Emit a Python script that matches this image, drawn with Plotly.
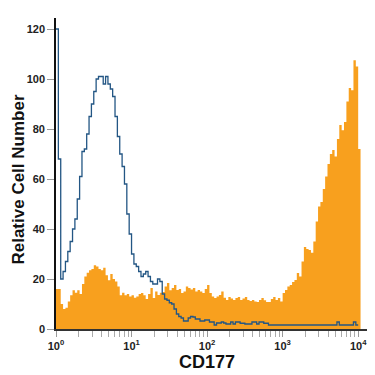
import plotly.graph_objects as go

# 32 channels per decade, from 10^0 upward
BINS_PER_DECADE = 32

# Isotype control (blue outline)
control_counts = [
    120, 68, 20, 23, 27, 31, 35, 40, 44, 52,
    61, 71, 72, 78, 85, 90, 95, 100, 101, 101,
    98, 101, 98, 96, 93, 85, 77, 70, 65, 58,
    46, 38, 30, 26, 25, 23, 21, 22, 23, 21,
    19, 18, 18, 20, 19, 14, 12, 11.5, 10.5, 10,
    8, 6, 5, 4.4, 3.2, 3.2, 4.4, 5, 4.8, 4,
    4, 3.2, 3.2, 3.6, 3.6, 2.8, 2.8, 1.6, 2.4, 2.4,
    2.8, 2.4, 2.0, 2.0, 2.8, 2.0, 2.8, 2.8, 2.3, 2.3,
    2.0, 2.0, 2.0, 2.8, 2.8, 2.0, 2.8, 2.8, 2.3, 2.3,
    1.6, 1.6, 1.6, 1.6, 1.6, 1.6, 1.6, 1.6, 1.6, 1.6,
    1.6, 1.6, 1.6, 1.6, 1.6, 1.6, 1.6, 1.6, 1.6, 1.6,
    1.6, 1.6, 1.6, 1.6, 1.6, 1.6, 1.6, 1.6, 1.6, 2.8,
    1.6, 1.6, 1.6, 1.6, 1.6, 1.6, 2.8, 1.6,
]

# CD177 stained (orange filled)
cd177_counts = [
    16, 16, 10, 8, 8.5, 11, 13.5, 15.5, 14.5, 15.5,
    14, 18, 21, 22.5, 23.5, 24, 25.5, 25, 24, 23.5,
    24.5, 21.5, 19.5, 22, 20, 19, 17, 13.5, 14.5, 13.5,
    14, 13, 13.5, 12.5, 13, 14, 14.4, 13.5, 12, 14,
    16.4, 12.4, 15, 13.6, 14.5, 14.8, 17, 18.4, 15.5, 16.4,
    17.6, 15.6, 16, 14.4, 15, 17, 16.4, 15.8, 16.4, 15,
    15.6, 15, 14.4, 16, 17.6, 14.4, 13, 12.4, 13, 13.6,
    15, 12.5, 11.6, 12.8, 12.2, 11.6, 12.4, 12.8, 11.6, 12.2,
    12.8, 11.6, 11.2, 11.6, 11, 10.8, 11.6, 12.4, 11.5, 10.8,
    10.8, 12, 12.8, 11.6, 12.4, 11, 14.4, 15.6, 17, 17.6,
    18.8, 19.6, 22.4, 21, 27, 32.8, 32, 31.6, 30.5, 35,
    43, 49, 50.8, 56, 61, 66, 70, 71.6, 69, 76,
    81.6, 79.5, 82.8, 91, 96.4, 95.5, 107.5, 105, 72,
]

y_tick_values = [0, 20, 40, 60, 80, 100, 120]
x_tick_values = [1, 10, 100, 1000, 10000]
x_tick_labels = ["10<sup>0</sup>", "10<sup>1</sup>", "10<sup>2</sup>",
                 "10<sup>3</sup>", "10<sup>4</sup>"]
x_minor_values = [m * 10 ** d for d in range(4) for m in range(2, 10)]


def step_xy(counts):
    n = len(counts)
    edges = [10 ** (i / BINS_PER_DECADE) for i in range(n + 1)]
    return edges, list(counts) + [counts[-1]]


ox, oy = step_xy(cd177_counts)
bx, by = step_xy(control_counts)

ORANGE = "#F8A01E"
BLUE = "#235684"

fig = go.Figure()
fig.add_trace(go.Scatter(
    x=ox, y=oy, mode="lines", line=dict(shape="hv", width=0, color=ORANGE),
    fill="tozeroy", fillcolor=ORANGE, hoverinfo="skip", showlegend=False,
))
fig.add_trace(go.Scatter(
    x=bx, y=by, mode="lines", line=dict(shape="hv", width=1.3, color=BLUE),
    hoverinfo="skip", showlegend=False,
))

tick_font = dict(family="Liberation Sans", size=11, color="#222", weight="bold")

# The page body has an 8px margin, so the figure is 367px and offset by 8px.
fig.update_layout(
    width=367, height=367,
    margin=dict(l=48, r=7, t=10, b=46, autoexpand=False),
    paper_bgcolor="white", plot_bgcolor="white",
    xaxis=dict(
        type="log", range=[0, 4.13],
        showline=True, linecolor="#333", linewidth=1.5,
        showgrid=False, zeroline=False,
        ticks="outside", ticklen=6, tickcolor="#999", tickwidth=1,
        tickmode="array", tickvals=x_tick_values, ticktext=x_tick_labels,
        tickfont=tick_font,
        minor=dict(ticks="outside", ticklen=6, tickcolor="#aaa",
                   tickmode="array", tickvals=x_minor_values, showgrid=False),
    ),
    yaxis=dict(
        range=[0, 124.4],
        showline=True, linecolor="#111", linewidth=1.6,
        showgrid=False, zeroline=False,
        ticks="outside", ticklen=7, tickcolor="#999", tickwidth=1,
        tickmode="array", tickvals=y_tick_values,
        tickfont=tick_font,
    ),
    annotations=[
        dict(text="CD177", xref="paper", yref="paper", x=0.484, y=-0.106,
             xanchor="center", yanchor="middle", showarrow=False,
             font=dict(family="Liberation Sans", size=18, color="#111",
                       weight="bold")),
        dict(text="Relative Cell Number", xref="paper", yref="paper",
             x=-0.1538, y=0.479, textangle=-90,
             xanchor="left", yanchor="middle", showarrow=False, borderpad=0,
             font=dict(family="Liberation Sans", size=17, color="#111",
                       weight="bold")),
    ],
)

fig.write_html("out.html")
